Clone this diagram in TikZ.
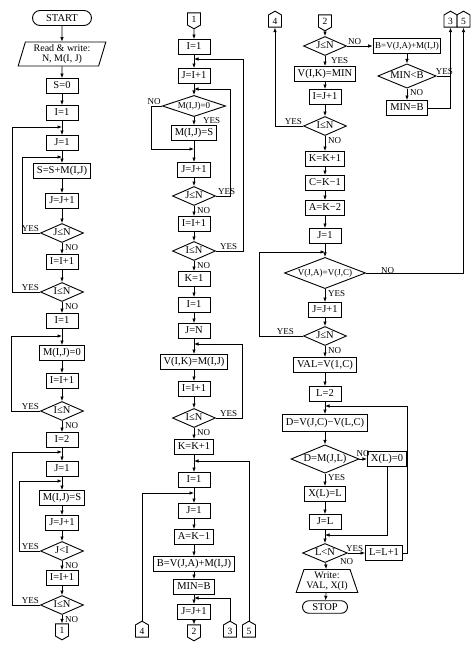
\documentclass[tikz,border=0pt]{standalone}
\usepackage{fontspec}
\setmainfont{Liberation Serif}
\usetikzlibrary{shapes.geometric,shapes.misc,shapes.symbols,arrows.meta}
\begin{document}
\begin{tikzpicture}[x=1pt,y=-1pt,
  every node/.style={font=\fontsize{10.5}{11}\selectfont},
  box/.style={draw,line width=0.9pt,rectangle,minimum height=15pt,minimum width=32pt,inner xsep=3.5pt,inner ysep=0pt,text height=7.5pt,text depth=2pt},
  dec/.style={draw,line width=0.9pt,diamond,aspect=2.4,inner sep=0.5pt,minimum width=43pt,minimum height=19pt,text height=7pt,text depth=2pt},
  term/.style={draw,line width=0.9pt,rounded rectangle,minimum height=15pt,inner sep=0pt},
  conn/.style={draw,line width=0.9pt,signal,signal pointer angle=120,minimum width=13pt,minimum height=14pt,inner sep=0.8pt,font=\fontsize{9.5}{10}\selectfont},
  cdown/.style={conn,signal to=south},
  cup/.style={conn,signal to=north},
  lbl/.style={font=\fontsize{9}{9}\selectfont,inner sep=1pt},
  ln/.style={line width=0.7pt},
  arr/.style={ln,-{Latex[length=4.5pt,width=3.5pt]}},
]
\useasboundingbox (0,0) rectangle (474,648);
% ---------- left column ----------
\node[term,minimum width=59pt] (st) at (62,18) {START};
\node[draw,line width=0.9pt,trapezium,trapezium left angle=75,trapezium right angle=105,trapezium stretches=true,minimum width=88pt,minimum height=24pt,inner sep=1pt,align=center,font=\fontsize{10}{10.5}\selectfont] (rw) at (62,54) {Read \& write:\\N, M(I, J)};
\node[box] (s0) at (62,86) {S=0};
\node[box] (i1) at (62,113) {I=1};
\coordinate (ja) at (62,127);
\node[box] (j1) at (62,143) {J=1};
\coordinate (jb) at (62,157);
\node[box] (ss) at (62,171) {S=S+M(I,J)};
\node[box] (jj) at (62,201) {J=J+1};
\node[dec] (d1) at (62,233) {J≤N};
\node[box] (ii) at (62,262) {I=I+1};
\node[dec] (d2) at (62,292) {I≤N};
\node[box] (ib) at (62,321) {I=1};
\coordinate (jc) at (62,336);
\node[box] (m0) at (62,353) {M(I,J)=0};
\node[box] (ii2) at (62,381) {I=I+1};
\node[dec] (d3) at (62,411) {I≤N};
\node[box] (i2) at (62,440) {I=2};
\coordinate (jd) at (62,452);
\node[box] (jc1) at (62,469) {J=1};
\coordinate (je) at (62,481);
\node[box] (ms) at (62,498) {M(I,J)=S};
\node[box] (jj2) at (62,523) {J=J+1};
\node[dec] (d4) at (62,551) {J<I};
\node[box] (ii3) at (62,578) {I=I+1};
\node[dec] (d5) at (62,605) {I≤N};
\node[cdown] (c1) at (62,630) {1};
\coordinate (x22) at (22,0);
\coordinate (x12) at (12,0);
\coordinate (x11) at (11,0);
\coordinate (x19) at (19,0);

\draw[arr] (st) -- (rw);
\draw[arr] (rw) -- (s0);
\draw[arr] (s0) -- (i1);
\draw[ln] (i1) -- (ja);
\draw[arr] (ja) -- (j1);
\draw[ln] (j1) -- (jb);
\draw[arr] (jb) -- (ss);
\draw[arr] (ss) -- (jj);
\draw[arr] (jj) -- (d1);
\draw[arr] (d1) -- (ii);
\draw[arr] (d1.west) -- (d1.west -| x22) |- (jb);
\draw[arr] (ii) -- (d2);
\draw[arr] (d2) -- (ib);
\draw[arr] (d2.west) -- (d2.west -| x12) |- (ja);
\draw[ln] (ib) -- (jc);
\draw[arr] (jc) -- (m0);
\draw[arr] (m0) -- (ii2);
\draw[arr] (ii2) -- (d3);
\draw[arr] (d3.west) -- (d3.west -| x11) |- (jc);
\draw[arr] (d3) -- (i2);
\draw[ln] (i2) -- (jd);
\draw[arr] (jd) -- (jc1);
\draw[ln] (jc1) -- (je);
\draw[arr] (je) -- (ms);
\draw[arr] (ms) -- (jj2);
\draw[arr] (jj2) -- (d4);
\draw[arr] (d4.west) -- (d4.west -| x19) |- (je);
\draw[arr] (d4) -- (ii3);
\draw[arr] (ii3) -- (d5);
\draw[arr] (d5.west) -- (d5.west -| x12) |- (jd);
\draw[arr] (d5) -- (c1);

\node[lbl,anchor=south east] (ly1) at (d1.west) {YES};
\node[lbl,anchor=north west] (ln1) at ([xshift=2pt]d1.south) {NO};
\node[lbl,anchor=south east] (ly2) at (d2.west) {YES};
\node[lbl,anchor=north west] (ln2) at ([xshift=2pt]d2.south) {NO};
\node[lbl,anchor=south east] (ly3) at (d3.west) {YES};
\node[lbl,anchor=north west] (ln3) at ([xshift=2pt]d3.south) {NO};
\node[lbl,anchor=south east] (ly4) at (d4.west) {YES};
\node[lbl,anchor=north west] (ln4) at ([xshift=2pt]d4.south) {NO};
\node[lbl,anchor=south east] (ly5) at (d5.west) {YES};
\node[lbl,anchor=north west] (ln5) at ([xshift=2pt]d5.south) {NO};

% ---------- middle column ----------
\node[cdown] (c1b) at (194,19) {1};
\node[box] (m1) at (194,47) {I=1};
\coordinate (ma) at (194,59);
\node[box] (m2) at (194,76) {J=I+1};
\coordinate (mb) at (194,89);
\node[dec,font=\fontsize{9}{9}\selectfont,aspect=3,minimum width=56pt,minimum height=19pt] (md1) at (194,106) {M(I,J)=0};
\node[box] (m3) at (194,133) {M(I,J)=S};
\coordinate (mc) at (194,149);
\node[box] (m4) at (194,170) {J=J+1};
\node[dec] (md2) at (194,196) {J≤N};
\node[box] (m5) at (194,224) {I=I+1};
\node[dec] (md3) at (194,251) {I≤N};
\node[box] (m6) at (194,279) {K=1};
\node[box] (m7) at (194,305) {I=1};
\node[box] (m8) at (194,331) {J=N};
\coordinate (me) at (194,344);
\node[box] (m9) at (194,362) {V(I,K)=M(I,J)};
\node[box] (m10) at (194,389) {I=I+1};
\node[dec] (md4) at (194,418) {I≤N};
\node[box] (m11) at (194,447) {K=K+1};
\coordinate (mf) at (194,461);
\node[box] (m12) at (194,480) {I=1};
\coordinate (mg) at (194,493);
\node[box] (m13) at (194,511) {J=1};
\node[box] (m14) at (194,537) {A=K−1};
\node[box] (m15) at (194,564) {B=V(J,A)+M(I,J)};
\node[box] (m16) at (194,587) {MIN=B};
\coordinate (mh) at (194,598);
\node[box] (m17) at (194,612) {J=J+1};
\node[cdown] (c2) at (194,631) {2};
\node[cup] (c4) at (142,631) {4};
\node[cup] (c3) at (230,631) {3};
\node[cup] (c5) at (249,631) {5};
\coordinate (x151) at (151,0);
\coordinate (x230) at (230,0);
\coordinate (x243) at (243,0);
\coordinate (x242) at (242,0);

\draw[arr] (c1b) -- (m1);
\draw[ln] (m1) -- (ma);
\draw[arr] (ma) -- (m2);
\draw[ln] (m2) -- (mb);
\draw[arr] (mb) -- (md1);
\draw[arr] (md1) -- (m3);
\draw[ln] (m3) -- (mc);
\draw[arr] (md1.west) -- (md1.west -| x151) |- (mc);
\draw[arr] (mc) -- (m4);
\draw[arr] (m4) -- (md2);
\draw[arr] (md2.east) -- (md2.east -| x230) |- (mb);
\draw[arr] (md2) -- (m5);
\draw[arr] (m5) -- (md3);
\draw[arr] (md3.east) -- (md3.east -| x243) |- (ma);
\draw[arr] (md3) -- (m6);
\draw[arr] (m6) -- (m7);
\draw[arr] (m7) -- (m8);
\draw[ln] (m8) -- (me);
\draw[arr] (me) -- (m9);
\draw[arr] (m9) -- (m10);
\draw[arr] (m10) -- (md4);
\draw[arr] (md4.east) -- (md4.east -| x242) |- (me);
\draw[arr] (md4) -- (m11);
\draw[ln] (m11) -- (mf);
\draw[arr] (mf) -- (m12);
\draw[ln] (m12) -- (mg);
\draw[arr] (mg) -- (m13);
\draw[arr] (m13) -- (m14);
\draw[arr] (m14) -- (m15);
\draw[arr] (m15) -- (m16);
\draw[ln] (m16) -- (mh);
\draw[arr] (mh) -- (m17);
\draw[arr] (m17) -- (c2);
\draw[arr] (c4.north) |- (mg);
\draw[arr] (c3.north) |- (mh);
\draw[arr] (c5.north) |- (mf);

\node[lbl,anchor=south east] (lm1) at (md1.west) {NO};
\node[lbl,anchor=north west,inner ysep=0pt] (lm2) at ([xshift=8pt]md1.south) {YES};
\node[lbl,anchor=south west] (lm3) at ([xshift=1pt]md2.east) {YES};
\node[lbl,anchor=north west] (lm4) at ([xshift=2pt]md2.south) {NO};
\node[lbl,anchor=south west] (lm5) at ([xshift=3pt]md3.east) {YES};
\node[lbl,anchor=north west] (lm6) at ([xshift=2pt]md3.south) {NO};
\node[lbl,anchor=south west] (lm7) at ([xshift=3pt]md4.east) {YES};
\node[lbl,anchor=north west] (lm8) at ([xshift=2pt]md4.south) {NO};

% ---------- right column ----------
\node[cup] (c4t) at (275,21) {4};
\node[cdown] (c2t) at (325,21) {2};
\node[cup] (c3t) at (450.5,21) {3};
\node[cup] (c5t) at (463.5,21) {5};
\node[dec] (r1) at (325,46) {J≤N};
\node[box,font=\fontsize{9}{9}\selectfont,inner xsep=2pt] (rb) at (407,46) {B=V(J,A)+M(I,J)};
\node[dec,minimum width=57pt,minimum height=22pt] (r2) at (407,76) {MIN<B};
\node[box] (r3) at (407,108) {MIN=B};
\node[box] (r4) at (325,74) {V(I,K)=MIN};
\node[box] (r5) at (325,97) {I=J+1};
\node[dec] (r6) at (325,126) {I≤N};
\node[box] (r7) at (325,159) {K=K+1};
\node[box] (r8) at (325,183) {C=K−1};
\node[box] (r9) at (325,208) {A=K−2};
\node[box] (r10) at (325,236) {J=1};
\coordinate (ra) at (325,252);
\node[dec,font=\fontsize{9}{9}\selectfont,aspect=2.6] (r11) at (325,273) {V(J,A)=V(J,C)};
\node[box] (r12) at (325,310) {J=J+1};
\node[dec] (r13) at (325,336) {J≤N};
\node[box] (r14) at (325,365) {VAL=V(1,C)};
\node[box] (r15) at (325,394) {L=2};
\coordinate (rc) at (325,406);
\node[box,minimum height=17pt] (r16) at (325,423) {D=V(J,C)−V(L,C)};
\node[dec,aspect=2.4] (r17) at (325,459) {D=M(J,L)};
\node[box] (r18) at (387,459) {X(L)=0};
\node[box] (r19) at (325,494) {X(L)=L};
\node[box] (r20) at (325,522) {J=L};
\coordinate (rd) at (325,535);
\node[dec] (r21) at (325,553) {L<N};
\node[box] (r22) at (384,553) {L=L+1};
\node[draw,line width=0.9pt,trapezium,trapezium left angle=70,trapezium right angle=70,trapezium stretches=true,minimum width=62pt,minimum height=23pt,inner sep=0.5pt,align=center,font=\fontsize{10}{10}\selectfont] (r23) at (327,581) {Write:\\VAL, X(I)};
\node[term,minimum width=45pt,minimum height=12.5pt] (r24) at (325,607) {STOP};
\coordinate (x259) at (259,0);
\coordinate (x407) at (407,0);

\draw[arr] (c2t) -- (r1);
\draw[arr] (r1) -- (rb);
\draw[arr] (rb) -- (r2);
\draw[arr] (r2) -- (r3);
\draw[ln] (r2.east) -- (r2.east -| c3t);
\draw[arr] (r3.east) -| (c3t.south);
\draw[arr] (r1) -- (r4);
\draw[arr] (r4) -- (r5);
\draw[arr] (r5) -- (r6);
\draw[arr] (r6.west) -| (c4t.south);
\draw[arr] (r6) -- (r7);
\draw[arr] (r7) -- (r8);
\draw[arr] (r8) -- (r9);
\draw[arr] (r9) -- (r10);
\draw[ln] (r10) -- (ra);
\draw[arr] (ra) -- (r11);
\draw[arr] (r11.east) -| (c5t.south);
\draw[arr] (r11) -- (r12);
\draw[arr] (r12) -- (r13);
\draw[arr] (r13.west) -- (r13.west -| x259) |- (ra);
\draw[arr] (r13) -- (r14);
\draw[arr] (r14) -- (r15);
\draw[ln] (r15) -- (rc);
\draw[arr] (rc) -- (r16);
\draw[arr] (r16) -- (r17);
\draw[arr] (r17) -- (r18);
\draw[arr] (r17) -- (r19);
\draw[arr] (r19) -- (r20);
\draw[ln] (r20) -- (rd);
\draw[arr] (r18.south) |- (rd);
\draw[arr] (rd) -- (r21);
\draw[arr] (r21) -- (r22);
\draw[arr] (r22.east) -- (r22.east -| x407) |- (rc);
\draw[arr] (r21) -- (r23);
\draw[arr] (r23) -- (r24);

\node[lbl,anchor=south west] (lr1) at (r1.east) {NO};
\node[lbl,anchor=north west] (lr2) at ([xshift=5pt]r1.south) {YES};
\node[lbl,anchor=south west] (lr3) at ([xshift=-2pt]r2.east) {YES};
\node[lbl,anchor=north west] (lr4) at ([xshift=2pt]r2.south) {NO};
\node[lbl,anchor=south east] (lr5) at (r6.west) {YES};
\node[lbl,anchor=north west] (lr6) at ([xshift=2pt]r6.south) {NO};
\node[lbl,anchor=south west] (lr7) at ([xshift=14pt,yshift=-2pt]r11.east) {NO};
\node[lbl,anchor=north west] (lr8) at ([xshift=2pt]r11.south) {YES};
\node[lbl,anchor=south east] (lr9) at ([xshift=-8pt]r13.west) {YES};
\node[lbl,anchor=north west] (lr10) at ([xshift=2pt]r13.south) {NO};
\node[lbl,anchor=south west] (lr11) at ([xshift=-4pt,yshift=1pt]r17.east) {NO};
\node[lbl,anchor=north west] (lr12) at ([xshift=2pt]r17.south) {YES};
\node[lbl,anchor=south west] (lr13) at ([xshift=-3pt]r21.east) {YES};
\node[lbl,anchor=west] (lr14) at ([xshift=14pt,yshift=1pt]r21.south) {NO};
\end{tikzpicture}
\end{document}
